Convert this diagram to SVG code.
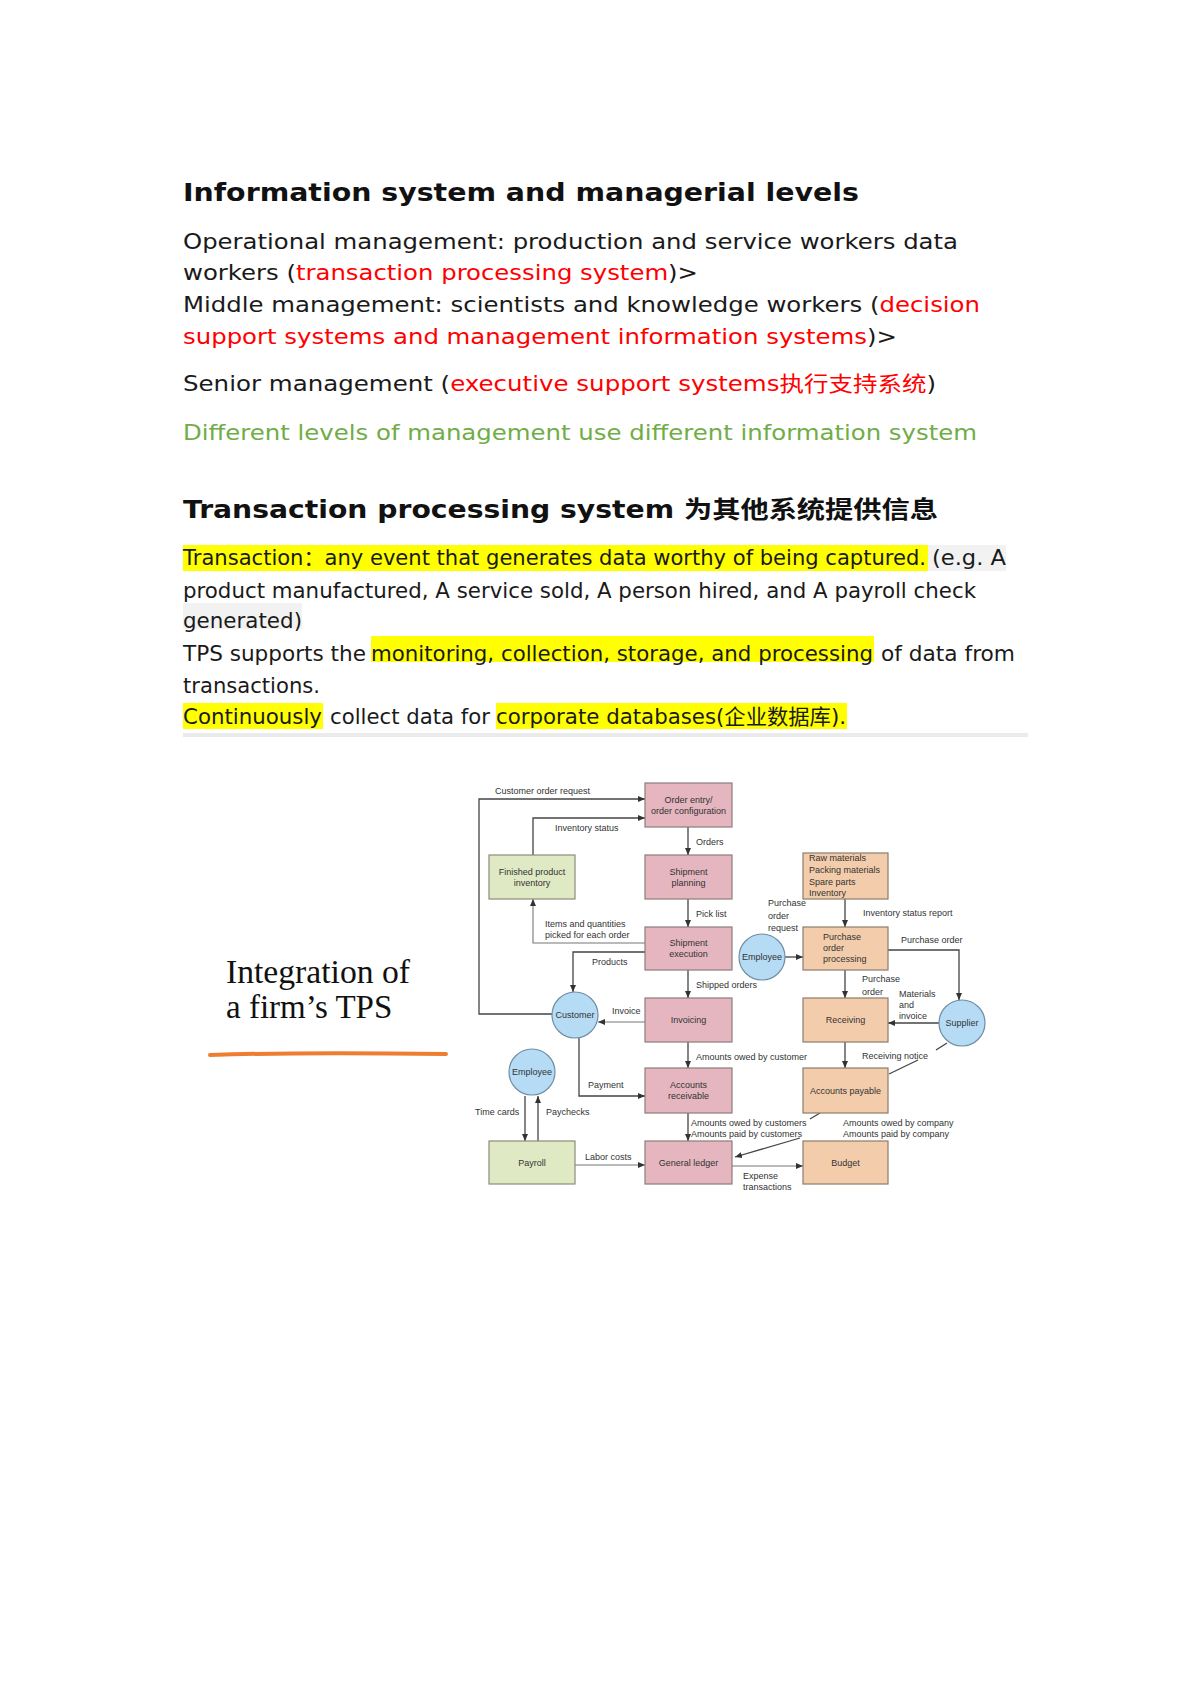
<svg xmlns="http://www.w3.org/2000/svg" width="1200" height="1698" viewBox="0 0 1200 1698">
<style>
.t{font-family:"DejaVu Sans","Noto Sans CJK SC",sans-serif;font-size:21px;fill:#1a1a1a}
.h{font-family:"DejaVu Sans","Noto Sans CJK SC",sans-serif;font-size:24px;font-weight:bold;fill:#111}
.r{fill:#ff0000}.g{fill:#70ad47}
.hl{fill:#ffff00}
.d{font-family:"Liberation Sans",Arial,sans-serif;font-size:9px;fill:#333}
.c{text-anchor:middle}
.pk{fill:#e5b6bf;stroke:#8c7c7c;stroke-width:1.2}
.gr{fill:#dfe9c4;stroke:#8c8c7c;stroke-width:1.2}
.or{fill:#f3cdab;stroke:#8c7c6c;stroke-width:1.2}
.ci{fill:#b5dbf5;stroke:#6f8ea3;stroke-width:1.2}
.ln{fill:none;stroke:#444;stroke-width:1.3}
.lg{fill:none;stroke:#777;stroke-width:1.1}
</style>
<defs><marker id="a" markerWidth="8" markerHeight="8" refX="7" refY="4" orient="auto" markerUnits="userSpaceOnUse"><path d="M0,1 L7,4 L0,7 z" fill="#333"/></marker></defs>
<rect width="1200" height="1698" fill="#fff"/>
<g id="text1">
<text class="h" x="183" y="201" textLength="676" lengthAdjust="spacingAndGlyphs">Information system and managerial levels</text>
<text class="t" x="183" y="249" textLength="775" lengthAdjust="spacingAndGlyphs">Operational management: production and service workers data</text>
<text class="t" x="183" y="280" textLength="515" lengthAdjust="spacingAndGlyphs">workers (<tspan class="r">transaction processing system</tspan>)&gt;</text>
<text class="t" x="183" y="312" textLength="797" lengthAdjust="spacingAndGlyphs">Middle management: scientists and knowledge workers (<tspan class="r">decision</tspan></text>
<text class="t" x="183" y="344" textLength="714" lengthAdjust="spacingAndGlyphs"><tspan class="r">support systems and management information systems</tspan>)&gt;</text>
<text class="t" x="183" y="391" textLength="753" lengthAdjust="spacingAndGlyphs">Senior management (<tspan class="r">executive support systems执行支持系统</tspan>)</text>
<text class="t g" x="183" y="440" textLength="794" lengthAdjust="spacingAndGlyphs">Different levels of management use different information system</text>
</g>
<g id="text2">
<text class="h" x="183" y="518" textLength="755" lengthAdjust="spacingAndGlyphs">Transaction processing system 为其他系统提供信息</text>
<rect class="hl" x="183" y="545" width="745" height="26"/>
<rect x="928" y="545" width="78" height="26" fill="#f2f2f2"/>
<rect x="183" y="603" width="119" height="26" fill="#f2f2f2"/>
<rect class="hl" x="371" y="636" width="503" height="26"/>
<rect class="hl" x="183" y="703" width="140" height="26"/>
<rect class="hl" x="496" y="703" width="351" height="26"/>
<text class="t" x="183" y="565" textLength="743" lengthAdjust="spacingAndGlyphs">Transaction：any event that generates data worthy of being captured.</text>
<text class="t" x="932" y="565" textLength="74" lengthAdjust="spacingAndGlyphs">(e.g. A</text>
<text class="t" x="183" y="598" textLength="793" lengthAdjust="spacingAndGlyphs">product manufactured, A service sold, A person hired, and A payroll check</text>
<text class="t" x="183" y="628" textLength="119" lengthAdjust="spacingAndGlyphs">generated)</text>
<text class="t" x="183" y="661" textLength="183" lengthAdjust="spacingAndGlyphs">TPS supports the</text>
<text class="t" x="371" y="661" textLength="502" lengthAdjust="spacingAndGlyphs">monitoring, collection, storage, and processing</text>
<text class="t" x="881" y="661" textLength="134" lengthAdjust="spacingAndGlyphs">of data from</text>
<text class="t" x="183" y="693" textLength="137" lengthAdjust="spacingAndGlyphs">transactions.</text>
<text class="t" x="183" y="724" textLength="139" lengthAdjust="spacingAndGlyphs">Continuously</text>
<text class="t" x="330" y="724" textLength="160" lengthAdjust="spacingAndGlyphs">collect data for</text>
<text class="t" x="496" y="724" textLength="350" lengthAdjust="spacingAndGlyphs">corporate databases(企业数据库).</text>
<rect x="183" y="733" width="845" height="4" fill="#ebebeb"/>
</g>
<g id="title3">
<text x="226" y="983" font-family="Liberation Serif,serif" font-size="33" fill="#111" textLength="184" lengthAdjust="spacingAndGlyphs">Integration of</text>
<text x="226" y="1018" font-family="Liberation Serif,serif" font-size="33" fill="#111">a firm’s TPS</text>
<path d="M210,1055 Q300,1052 446,1054" stroke="#ed7d31" stroke-width="4" fill="none" stroke-linecap="round"/>
</g>
<g id="connectors">
<path class="ln" d="M552,1014 H479 V799 H645" marker-end="url(#a)"/>
<path class="ln" d="M533,855 V818 H645" marker-end="url(#a)"/>
<path class="ln" d="M688,827 V855" marker-end="url(#a)"/>
<path class="ln" d="M688,899 V927" marker-end="url(#a)"/>
<path class="lg" d="M645,943 H533 V899" marker-end="url(#a)"/>
<path class="ln" d="M645,952 H573 V992" marker-end="url(#a)"/>
<path class="ln" d="M688,970 V998" marker-end="url(#a)"/>
<path class="lg" d="M645,1022 H598" marker-end="url(#a)"/>
<path class="ln" d="M688,1042 V1068" marker-end="url(#a)"/>
<path class="ln" d="M579,1038 V1096 H645" marker-end="url(#a)"/>
<path class="ln" d="M525,1096 V1141" marker-end="url(#a)"/>
<path class="ln" d="M538,1141 V1096" marker-end="url(#a)"/>
<path class="ln" d="M688,1113 V1141" marker-end="url(#a)"/>
<path class="lg" d="M575,1165 H645" marker-end="url(#a)"/>
<path class="lg" d="M732,1166 H803" marker-end="url(#a)"/>
<path class="ln" d="M820,1113 L810,1119"/>
<path class="ln" d="M800,1138 L735,1157" marker-end="url(#a)"/>
<path class="ln" d="M845,899 V927" marker-end="url(#a)"/>
<path class="ln" d="M785,957 H803" marker-end="url(#a)"/>
<path class="ln" d="M888,950 H959 V1000" marker-end="url(#a)"/>
<path class="ln" d="M845,970 V998" marker-end="url(#a)"/>
<path class="ln" d="M939,1023 H888" marker-end="url(#a)"/>
<path class="ln" d="M845,1042 V1068" marker-end="url(#a)"/>
<path class="ln" d="M947,1043 L936,1050"/>
<path class="ln" d="M918,1060 L889,1074"/>
</g>
<g id="labels">
<text class="d" x="495" y="794">Customer order request</text>
<text class="d" x="555" y="831">Inventory status</text>
<text class="d" x="696" y="845">Orders</text>
<text class="d" x="696" y="917">Pick list</text>
<text class="d" x="545" y="927">Items and quantities</text>
<text class="d" x="545" y="938">picked for each order</text>
<text class="d" x="592" y="965">Products</text>
<text class="d" x="696" y="988">Shipped orders</text>
<text class="d" x="612" y="1014">Invoice</text>
<text class="d" x="696" y="1060">Amounts owed by customer</text>
<text class="d" x="588" y="1088">Payment</text>
<text class="d" x="475" y="1115">Time cards</text>
<text class="d" x="546" y="1115">Paychecks</text>
<text class="d" x="691" y="1126">Amounts owed by customers</text>
<text class="d" x="691" y="1137">Amounts paid by customers</text>
<text class="d" x="585" y="1160">Labor costs</text>
<text class="d" x="743" y="1179">Expense</text>
<text class="d" x="743" y="1190">transactions</text>
<text class="d" x="768" y="906">Purchase</text>
<text class="d" x="768" y="919">order</text>
<text class="d" x="768" y="931">request</text>
<text class="d" x="863" y="916">Inventory status report</text>
<text class="d" x="901" y="943">Purchase order</text>
<text class="d" x="862" y="982">Purchase</text>
<text class="d" x="862" y="995">order</text>
<text class="d" x="899" y="997">Materials</text>
<text class="d" x="899" y="1008">and</text>
<text class="d" x="899" y="1019">invoice</text>
<text class="d" x="862" y="1059">Receiving notice</text>
<text class="d" x="843" y="1126">Amounts owed by company</text>
<text class="d" x="843" y="1137">Amounts paid by company</text>
</g>
<g id="order-entry"><rect class="pk" x="645" y="783" width="87" height="44"/><text class="d c" x="688.5" y="803">Order entry/</text><text class="d c" x="688.5" y="814">order configuration</text></g>
<g id="shipment-planning"><rect class="pk" x="645" y="855" width="87" height="44"/><text class="d c" x="688.5" y="875">Shipment</text><text class="d c" x="688.5" y="886">planning</text></g>
<g id="shipment-execution"><rect class="pk" x="645" y="927" width="87" height="43"/><text class="d c" x="688.5" y="946">Shipment</text><text class="d c" x="688.5" y="957">execution</text></g>
<g id="invoicing"><rect class="pk" x="645" y="998" width="87" height="44"/><text class="d c" x="688.5" y="1023">Invoicing</text></g>
<g id="accounts-receivable"><rect class="pk" x="645" y="1068" width="87" height="45"/><text class="d c" x="688.5" y="1088">Accounts</text><text class="d c" x="688.5" y="1099">receivable</text></g>
<g id="general-ledger"><rect class="pk" x="645" y="1141" width="87" height="43"/><text class="d c" x="688.5" y="1166">General ledger</text></g>
<g id="finished-product"><rect class="gr" x="489" y="855" width="86" height="44"/><text class="d c" x="532" y="875">Finished product</text><text class="d c" x="532" y="886">inventory</text></g>
<g id="payroll"><rect class="gr" x="489" y="1141" width="86" height="43"/><text class="d c" x="532" y="1166">Payroll</text></g>
<g id="raw-materials"><rect class="or" x="803" y="853" width="85" height="46"/><text class="d" x="809" y="861">Raw materials</text><text class="d" x="809" y="873">Packing materials</text><text class="d" x="809" y="885">Spare parts</text><text class="d" x="809" y="896">Inventory</text></g>
<g id="purchase-order-processing"><rect class="or" x="803" y="927" width="85" height="43"/><text class="d" x="823" y="940">Purchase</text><text class="d" x="823" y="951">order</text><text class="d" x="823" y="962">processing</text></g>
<g id="receiving"><rect class="or" x="803" y="998" width="85" height="44"/><text class="d c" x="845.5" y="1023">Receiving</text></g>
<g id="accounts-payable"><rect class="or" x="803" y="1068" width="85" height="45"/><text class="d c" x="845.5" y="1094">Accounts payable</text></g>
<g id="budget"><rect class="or" x="803" y="1141" width="85" height="43"/><text class="d c" x="845.5" y="1166">Budget</text></g>
<g id="customer"><circle class="ci" cx="575" cy="1015" r="23"/><text class="d c" x="575" y="1018">Customer</text></g>
<g id="employee-left"><circle class="ci" cx="532" cy="1072" r="23"/><text class="d c" x="532" y="1075">Employee</text></g>
<g id="employee-right"><circle class="ci" cx="762" cy="957" r="23"/><text class="d c" x="762" y="960">Employee</text></g>
<g id="supplier"><circle class="ci" cx="962" cy="1023" r="23"/><text class="d c" x="962" y="1026">Supplier</text></g>
</svg>
